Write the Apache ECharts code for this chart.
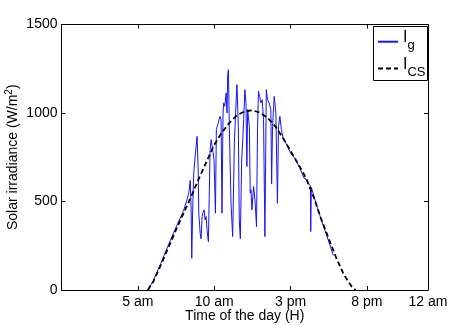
<!DOCTYPE html>
<html>
<head>
<meta charset="utf-8">
<script src="https://cdn.jsdelivr.net/npm/echarts@6/dist/echarts.min.js"></script>
<style>
  html, body { margin: 0; padding: 0; background: #fff; }
  #chart { width: 474px; height: 326px; }
</style>
</head>
<body>
<div id="chart"></div>
<script>
// Hour-of-day ticks and their clock labels
const xTickHours = [5, 10, 15, 20, 24];
const xTickLabels = ['5 am', '10 am', '3 pm', '8 pm', '12 am'];

// Clear-sky irradiance I_CS (W/m^2) against hour of day
const csHours = [5.65, 6.0, 6.5, 7.0, 7.5, 8.0, 8.5, 9.0, 9.5, 10.0, 10.5, 11.0, 11.5, 12.0, 12.5,
  13.0, 13.5, 14.0, 14.5, 15.0, 15.5, 16.0, 16.5, 17.0, 17.5, 18.0, 18.5, 19.0, 19.26];
const csValues = [0, 45, 140, 240, 340, 435, 530, 630, 725, 820, 890, 945, 988, 1010, 1015,
  1002, 972, 925, 860, 785, 712, 635, 528, 402, 290, 180, 85, 20, 0];

// Measured global irradiance I_g (W/m^2) against hour of day
const igHours = [5.65, 6.0, 6.5, 7.0, 7.5, 8.0, 8.2, 8.34, 8.43, 8.49, 8.53, 8.60, 8.66, 8.77, 8.88,
  8.95, 8.99, 9.08, 9.14, 9.21, 9.25, 9.34, 9.40, 9.47, 9.53, 9.62, 9.67, 9.73, 9.80, 9.86,
  9.93, 9.99, 10.08, 10.14, 10.23, 10.29, 10.38, 10.45, 10.51, 10.58, 10.62, 10.69, 10.78, 10.84, 10.88,
  10.93, 10.99, 11.10, 11.21, 11.32, 11.43, 11.49, 11.58, 11.64, 11.71, 11.80, 11.86, 11.93, 12.01, 12.08,
  12.14, 12.19, 12.30, 12.36, 12.41, 12.47, 12.58, 12.67, 12.77, 12.84, 12.90, 12.97, 13.06, 13.14, 13.23,
  13.32, 13.41, 13.49, 13.60, 13.71, 13.76, 13.82, 13.93, 14.04, 14.14, 14.21, 14.30, 14.40, 14.53, 14.70,
  15.0, 15.3, 15.6, 15.88, 16.05, 16.15, 16.25, 16.30, 16.32, 16.36, 16.43, 16.7, 17.0, 17.4, 17.8];
const igValues = [0, 50, 150, 255, 355, 450, 505, 550, 619, 453, 179, 490, 660, 774, 868,
  679, 434, 321, 289, 415, 434, 453, 396, 415, 340, 273, 509, 792, 849, 859,
  840, 736, 434, 906, 934, 943, 981, 962, 434, 1000, 1057, 1038, 1113, 1000, 1208,
  1245, 924, 490, 302, 830, 1057, 1160, 924, 396, 290, 736, 830, 962, 1132, 1057,
  698, 1019, 924, 547, 566, 453, 585, 509, 358, 924, 1123, 1094, 1057, 1075, 962,
  302, 1132, 1075, 1057, 1019, 600, 924, 1094, 1000, 490, 924, 981, 906, 849, 830,
  775, 740, 690, 632, 625, 600, 610, 590, 330, 580, 560, 480, 400, 300, 195];

const pairs = (xs, ys) => xs.map((x, i) => [x, ys[i]]);

const font = '"Liberation Sans", Arial, Helvetica, sans-serif';
const black = '#000';

const chart = echarts.init(document.getElementById('chart'), null, { renderer: 'canvas' });

const tickOpts = { show: true, inside: true, length: 4, lineStyle: { color: black, width: 1 } };

chart.setOption({
  animation: false,
  backgroundColor: '#fff',
  grid: { left: 61.5, right: 46, top: 24.5, bottom: 36, containLabel: false, outerBoundsMode: 'none' },
  // Framed legend box
  graphic: [{
    type: 'rect', left: 373, top: 26, z: 90,
    shape: { width: 54, height: 54 },
    style: { fill: '#fff', stroke: black, lineWidth: 1 }
  }],
  legend: {
    orient: 'vertical',
    left: 377,
    top: 29.7,
    padding: 0,
    itemWidth: 20,
    itemHeight: 14,
    itemGap: 4.3,
    z: 100,
    itemStyle: { opacity: 0 },
    data: ['Ig', 'ICS'],
    formatter: name => name === 'Ig' ? '{i|I}{s|g}' : '{i|I}{s|CS}',
    textStyle: {
      fontFamily: font,
      color: black,
      rich: {
        i: { fontSize: 16, fontFamily: font, color: black, padding: [0, 0, 8, 0] },
        s: { fontSize: 13, fontFamily: font, color: black, padding: [8, 0, 0, 0] }
      }
    }
  },
  xAxis: [
    {
      type: 'value', position: 'bottom', min: 0, max: 24,
      name: 'Time of the day (H)', nameLocation: 'middle', nameGap: 19, nameMoveOverlap: false,
      nameTextStyle: { fontFamily: font, fontSize: 14, color: black },
      axisLine: { show: true, onZero: false, lineStyle: { color: black, width: 1 } },
      axisTick: Object.assign({ customValues: xTickHours }, tickOpts),
      axisLabel: {
        customValues: xTickHours, margin: 5,
        fontFamily: font, fontSize: 14, color: black,
        formatter: v => xTickLabels[xTickHours.indexOf(v)]
      },
      splitLine: { show: false }
    },
    {
      type: 'value', position: 'top', min: 0, max: 24,
      axisLine: { show: true, onZero: false, lineStyle: { color: black, width: 1 } },
      axisTick: Object.assign({ customValues: xTickHours }, tickOpts),
      axisLabel: { show: false },
      splitLine: { show: false }
    }
  ],
  yAxis: [
    {
      type: 'value', position: 'left', min: 0, max: 1500, interval: 500,
      name: '{a|Solar irradiance (W/m}{p|2}{a|)}', nameLocation: 'middle', nameGap: 40, nameMoveOverlap: false,
      nameTextStyle: {
        fontFamily: font, fontSize: 14, color: black,
        rich: {
          a: { fontFamily: font, fontSize: 14, color: black },
          p: { fontFamily: font, fontSize: 10, color: black, padding: [0, 0, 7, 0] }
        }
      },
      axisLine: { show: true, onZero: false, lineStyle: { color: black, width: 1 } },
      axisTick: tickOpts,
      axisLabel: { margin: 4, fontFamily: font, fontSize: 14, color: black, formatter: v => String(v) },
      splitLine: { show: false }
    },
    {
      type: 'value', position: 'right', min: 0, max: 1500, interval: 500,
      axisLine: { show: true, onZero: false, lineStyle: { color: black, width: 1 } },
      axisTick: tickOpts,
      axisLabel: { show: false },
      splitLine: { show: false }
    }
  ],
  series: [
    {
      name: 'Ig', type: 'line', xAxisIndex: 0, yAxisIndex: 0,
      data: pairs(igHours, igValues),
      showSymbol: false, symbol: 'none',
      lineStyle: { color: '#1515f5', width: 1 },
      itemStyle: { color: '#1515f5' },
      z: 2
    },
    {
      name: 'ICS', type: 'line', xAxisIndex: 0, yAxisIndex: 0,
      data: pairs(csHours, csValues),
      showSymbol: false, symbol: 'none',
      lineStyle: { color: black, width: 1.8, type: [5, 3] },
      itemStyle: { color: black },
      z: 3
    }
  ]
});
</script>
</body>
</html>
